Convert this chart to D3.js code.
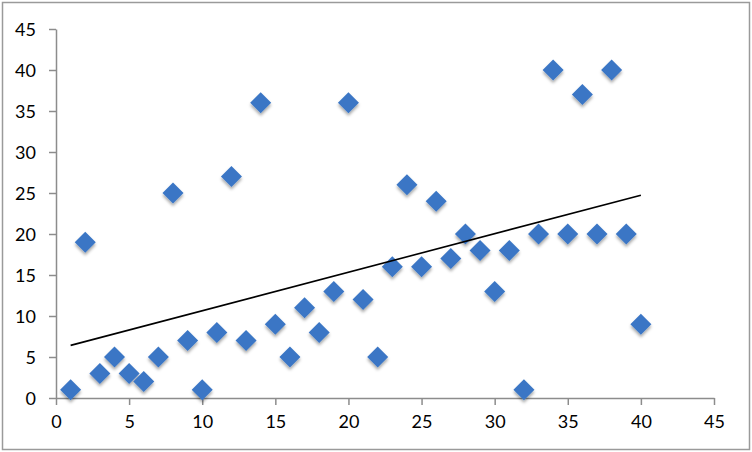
<!DOCTYPE html>
<html>
<head>
<meta charset="utf-8">
<script src="https://cdn.jsdelivr.net/npm/d3@7"></script>
<style>
  html, body { margin: 0; padding: 0; background: #fff; }
  svg { display: block; }
  .tick text { font-family: Lato, "Open Sans", sans-serif; font-size: 18px; fill: #000; }
</style>
</head>
<body>
<svg id="chart"></svg>
<script>
// x positions and y values
var xValues = [1, 2, 3, 4, 5, 6, 7, 8, 9, 10,
               11, 12, 13, 14, 15, 16, 17, 18, 19, 20,
               21, 22, 23, 24, 25, 26, 27, 28, 29, 30,
               31, 32, 33, 34, 35, 36, 37, 38, 39, 40];
var yValues = [1, 19, 3, 5, 3, 2, 5, 25, 7, 1,
               8, 27, 7, 36, 9, 5, 11, 8, 13, 36,
               12, 5, 16, 26, 16, 24, 17, 20, 18, 13,
               18, 1, 20, 40, 20, 37, 20, 40, 20, 9];
var xTicks = [0, 5, 10, 15, 20, 25, 30, 35, 40, 45];
var yTicks = [0, 5, 10, 15, 20, 25, 30, 35, 40, 45];

var W = 752, H = 452;
var margin = {top: 29, right: 38, bottom: 54, left: 56};
var width = W - margin.left - margin.right,
    height = H - margin.top - margin.bottom;

var svg = d3.select("#chart").attr("width", W).attr("height", H);

// drop shadow for markers
var defs = svg.append("defs");
var f = defs.append("filter").attr("id", "shadow")
    .attr("x", "-50%").attr("y", "-50%").attr("width", "200%").attr("height", "200%");
f.append("feDropShadow").attr("dx", 0).attr("dy", 2.5).attr("stdDeviation", 1.6)
    .attr("flood-color", "#000").attr("flood-opacity", 0.35);

// outer frame
svg.append("rect").attr("x", 2.5).attr("y", 2.5).attr("width", W - 5).attr("height", H - 5)
    .attr("fill", "none").attr("stroke", "#9a9a9a").attr("stroke-width", 1.5);

var g = svg.append("g").attr("transform", "translate(" + margin.left + "," + margin.top + ")");

var x = d3.scaleLinear().domain([0, 45]).range([0, width]);
var y = d3.scaleLinear().domain([0, 45]).range([height, 0]);

var xAxis = g.append("g").attr("transform", "translate(0," + height + ")")
    .call(d3.axisBottom(x).tickValues(xTicks).tickSize(7).tickPadding(10).tickSizeOuter(0));
var yAxis = g.append("g")
    .call(d3.axisLeft(y).tickValues(yTicks).tickSize(7).tickPadding(13).tickSizeOuter(0));
[xAxis, yAxis].forEach(function(a) {
  a.select(".domain").attr("stroke", "#8c8c8c").attr("stroke-width", 1.5);
  a.selectAll(".tick line").attr("stroke", "#8c8c8c").attr("stroke-width", 1.5);
});
yAxis.selectAll(".tick text").attr("dy", "0.36em");

var data = xValues.map(function(v, i) { return {x: v, y: yValues[i]}; });

// linear trendline through the points
var mx = d3.mean(data, function(d) { return d.x; }),
    my = d3.mean(data, function(d) { return d.y; });
var slope = d3.sum(data, function(d) { return (d.x - mx) * (d.y - my); }) /
            d3.sum(data, function(d) { return (d.x - mx) * (d.x - mx); });
var icpt = my - slope * mx;
var x0 = d3.min(xValues), x1 = d3.max(xValues);

var diamond = "M0,-10.5L10.5,0L0,10.5L-10.5,0Z";
g.selectAll(".pt").data(data).enter().append("path")
    .attr("class", "pt")
    .attr("d", diamond)
    .attr("transform", function(d) { return "translate(" + x(d.x) + "," + y(d.y) + ")"; })
    .attr("fill", "#3b76c5")
    .attr("filter", "url(#shadow)");

g.append("line")
    .attr("x1", x(x0)).attr("y1", y(icpt + slope * x0))
    .attr("x2", x(x1)).attr("y2", y(icpt + slope * x1))
    .attr("stroke", "#000").attr("stroke-width", 1.6);
</script>
</body>
</html>
